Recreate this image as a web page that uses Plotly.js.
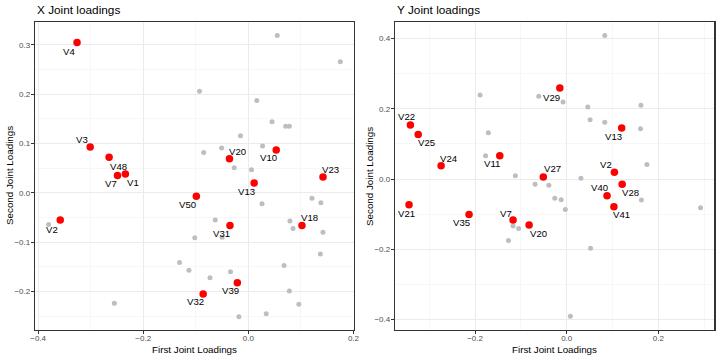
<!DOCTYPE html>
<html><head><meta charset="utf-8">
<script src="https://cdn.plot.ly/plotly-3.0.1.min.js"></script>
<style>html,body{margin:0;padding:0;background:#fff}#c{width:720px;height:360px}</style>
</head><body><div id="c"></div>
<script>
// ---- X block: highlighted (red) variables ----
const xRedLabels = ["V4","V3","V48","V7","V1","V2","V50","V20","V10","V13","V23","V31","V18","V39","V32"];
const xRedFirst  = [-0.326,-0.301,-0.265,-0.249,-0.234,-0.358,-0.099,-0.036,0.053,0.011,0.142,-0.035,0.102,-0.021,-0.086];
const xRedSecond = [0.305,0.093,0.072,0.035,0.038,-0.055,-0.007,0.069,0.087,0.020,0.032,-0.066,-0.066,-0.182,-0.205];
// ---- X block: other (grey) variables ----
const xGreyFirst  = [0.055,0.175,-0.093,0.016,0.045,0.071,0.078,-0.015,-0.085,-0.051,0.027,-0.027,0.006,0.026,0.121,0.138,-0.380,-0.063,0.079,0.085,0.142,-0.102,-0.050,0.137,-0.131,-0.113,0.068,-0.073,-0.034,0.078,-0.255,0.096,0.034,-0.018];
const xGreySecond = [0.319,0.266,0.206,0.187,0.144,0.135,0.135,0.116,0.082,0.091,0.095,0.051,0.047,-0.022,-0.011,-0.020,-0.064,-0.055,-0.057,-0.072,-0.080,-0.091,-0.090,-0.124,-0.141,-0.157,-0.147,-0.172,-0.160,-0.199,-0.224,-0.226,-0.245,-0.251];
// ---- Y block: highlighted (red) variables ----
const yRedLabels = ["V22","V25","V24","V11","V29","V13","V2","V27","V28","V40","V41","V21","V35","V7","V20"];
const yRedFirst  = [-0.341,-0.324,-0.274,-0.146,-0.015,0.120,0.104,-0.051,0.121,0.088,0.103,-0.344,-0.213,-0.117,-0.082];
const yRedSecond = [0.154,0.127,0.038,0.066,0.259,0.145,0.019,0.006,-0.015,-0.048,-0.079,-0.073,-0.101,-0.117,-0.131];
// ---- Y block: other (grey) variables ----
const yGreyFirst  = [0.083,-0.189,-0.061,-0.008,0.046,0.162,0.051,0.083,0.161,-0.171,-0.177,0.175,-0.112,0.031,-0.069,-0.039,-0.026,-0.012,-0.003,0.163,0.292,-0.117,-0.105,-0.127,0.052,0.008];
const yGreySecond = [0.409,0.239,0.236,0.219,0.205,0.210,0.169,0.162,0.143,0.132,0.066,0.041,0.009,0.002,-0.015,-0.018,-0.055,-0.059,-0.087,-0.060,-0.082,-0.134,-0.141,-0.175,-0.197,-0.391];

// label placement offsets in pixels (style only): right / down
const xLabelDx = [-8,-8, 9,-7, 8,-8,-9, 8,-8,-8, 8,-8, 8,-7,-8];
const xLabelDy = [ 9,-7, 9, 8, 8, 9, 8,-7, 8, 8,-8, 8,-8, 8, 8];
const yLabelDx = [-4, 8, 8,-8,-8,-8,-8, 9, 8,-8, 8,-3,-8,-7, 9];
const yLabelDy = [-8, 8,-7, 8, 9, 8,-8,-8, 8,-8, 8, 9, 8,-7, 8];

const FONT = "Liberation Sans, Arial, sans-serif";
const grey = {mode:"markers", marker:{color:"#BEBEBE", size:5}, hoverinfo:"skip", showlegend:false};
const red = {mode:"markers", marker:{color:"#FF0000", size:7.5}, showlegend:false};

const traces = [
  Object.assign({x:xGreyFirst, y:xGreySecond, xaxis:"x", yaxis:"y"}, grey),
  Object.assign({x:xRedFirst, y:xRedSecond, xaxis:"x", yaxis:"y"}, red),
  Object.assign({x:yGreyFirst, y:yGreySecond, xaxis:"x2", yaxis:"y2"}, grey),
  Object.assign({x:yRedFirst, y:yRedSecond, xaxis:"x2", yaxis:"y2"}, red)
];

function ax(extra){
  return Object.assign({
    showline:true, mirror:true, linecolor:"#333333", linewidth:1.2,
    ticks:"outside", ticklen:3, tickcolor:"#333333", tickwidth:1,
    showgrid:true, gridcolor:"#EBEBEB", gridwidth:1, zeroline:false,
    tickfont:{family:FONT,size:8,color:"#4D4D4D"}
  }, extra);
}
const minorG = (t0,d)=>({showgrid:true,gridcolor:"#F2F2F2",gridwidth:0.6,tick0:t0,dtick:d,ticks:""});

const annotations = [
  {text:"X Joint loadings", xref:"paper", yref:"paper", x:35/720, y:1-10/360, xanchor:"left", yanchor:"middle", showarrow:false, font:{family:FONT,size:11.8,color:"#000"}},
  {text:"Y Joint loadings", xref:"paper", yref:"paper", x:395/720, y:1-10/360, xanchor:"left", yanchor:"middle", showarrow:false, font:{family:FONT,size:11.8,color:"#000"}},
  {text:"First Joint Loadings", xref:"paper", yref:"paper", x:194.5/720, y:1-349.5/360, xanchor:"center", yanchor:"middle", showarrow:false, font:{family:FONT,size:9.8,color:"#000"}},
  {text:"First Joint Loadings", xref:"paper", yref:"paper", x:554.6/720, y:1-349.5/360, xanchor:"center", yanchor:"middle", showarrow:false, font:{family:FONT,size:9.8,color:"#000"}},
  {text:"Second Joint Loadings", xref:"paper", yref:"paper", x:9/720, y:1-176/360, xanchor:"center", yanchor:"middle", textangle:-90, showarrow:false, font:{family:FONT,size:9.8,color:"#000"}},
  {text:"Second Joint Loadings", xref:"paper", yref:"paper", x:369/720, y:1-176/360, xanchor:"center", yanchor:"middle", textangle:-90, showarrow:false, font:{family:FONT,size:9.8,color:"#000"}}
];
function addLabels(labels, xs, ys, dx, dy, xr, yr){
  labels.forEach((t,i)=>annotations.push({text:t, x:xs[i], y:ys[i], xref:xr, yref:yr, xanchor:"center", yanchor:"middle",
    xshift:dx[i], yshift:-dy[i], showarrow:false, font:{family:FONT,size:9.6,color:"#000"}}));
}
addLabels(xRedLabels, xRedFirst, xRedSecond, xLabelDx, xLabelDy, "x", "y");
addLabels(yRedLabels, yRedFirst, yRedSecond, yLabelDx, yLabelDy, "x2", "y2");

const yDom = [1-330/360, 1-21.7/360];
const layout = {
  width:720, height:360, margin:{l:0,r:0,t:0,b:0},
  paper_bgcolor:"#fff", plot_bgcolor:"#fff", showlegend:false,
  xaxis: ax({domain:[35/720,354/720], range:[-0.406,0.201], tick0:-0.4, dtick:0.2, tickformat:".1f", ticklabelstandoff:-3, minor:minorG(-0.3,0.2), anchor:"y"}),
  yaxis: ax({domain:yDom, range:[-0.278,0.347], tick0:0, dtick:0.1, tickformat:".1f", ticklabelstandoff:-1, minor:minorG(0.05,0.1), anchor:"x"}),
  xaxis2: ax({domain:[395/720,714.3/720], range:[-0.3746,0.322], tick0:-0.2, dtick:0.2, tickformat:".1f", ticklabelstandoff:-3, minor:minorG(-0.3,0.2), anchor:"y2"}),
  yaxis2: ax({domain:yDom, range:[-0.430,0.448], tick0:0, dtick:0.2, tickformat:".1f", ticklabelstandoff:-1, minor:minorG(0.1,0.2), anchor:"x2"}),
  annotations: annotations
};
Plotly.newPlot("c", traces, layout, {staticPlot:true, displayModeBar:false});
</script></body></html>
